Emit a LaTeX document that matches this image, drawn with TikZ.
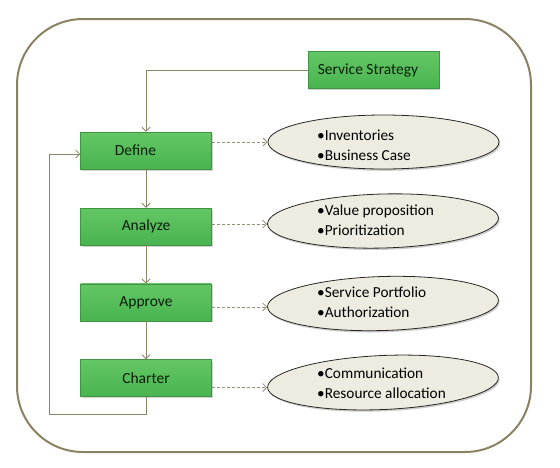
\documentclass[tikz,border=0pt]{standalone}
\usepackage{fontspec}
\setmainfont{Carlito}
\usetikzlibrary{arrows.meta,shapes.geometric,shadows,calc}
\definecolor{frameC}{RGB}{138,130,98}
\definecolor{lineC}{RGB}{140,132,105}
\definecolor{dashC}{RGB}{150,142,118}
\definecolor{boxTop}{RGB}{100,198,100}
\definecolor{boxBot}{RGB}{72,180,80}
\definecolor{boxEdge}{RGB}{62,150,66}
\definecolor{ellFill}{RGB}{238,236,225}
\definecolor{ellEdge}{RGB}{40,40,35}
\definecolor{txtC}{RGB}{10,30,10}
\begin{document}
\begin{tikzpicture}[x=1pt,y=-1pt,
  stepbox/.style={draw=boxEdge, line width=0.5pt, top color=boxTop, bottom color=boxBot,
    minimum width=131pt, minimum height=37pt, inner sep=0pt, text=txtC,
    font=\fontsize{15.5}{18}\selectfont,
    drop shadow={shadow xshift=1.2pt, shadow yshift=-1.6pt, opacity=0.35}},
  infoell/.style={ellipse, draw=ellEdge, line width=0.8pt, fill=ellFill,
    minimum width=231pt, minimum height=54pt, inner sep=0pt,
    drop shadow={shadow xshift=1.2pt, shadow yshift=-1.8pt, opacity=0.4}},
  infotext/.style={anchor=west, align=left, inner sep=0pt, text=black,
    font=\fontsize{15.3}{20}\selectfont},
  conn/.style={draw=lineC, line width=0.8pt, -{Straight Barb[length=4pt,width=8pt]}},
  dconn/.style={draw=dashC, line width=0.8pt, dash pattern=on 3pt off 2pt,
    -{Straight Barb[length=4pt,width=8pt]}}
]
\useasboundingbox (0,0) rectangle (560,467);
\draw[frameC, line width=2pt, fill=white, rounded corners=66pt] (17,19) rectangle (531,452);

\node[stepbox] (ss) at (373.5,70) {Service Strategy\kern11pt};
\node[stepbox] (def) at (146,150.5) {Define\kern21pt};
\node[stepbox] (ana) at (146,226.5) {Analyze};
\node[stepbox] (app) at (146,302.3) {Approve};
\node[stepbox] (cha) at (146,378) {Charter};

\node[infoell] (e1) at (383.5,142) {};
\node[infoell, rotate=1.5] (e2) at (383,221) {};
\node[infoell, rotate=1.7] (e3) at (383,303.5) {};
\node[infoell, rotate=2.5] (e4) at (383,382.5) {};

\node[infotext] (t1) at (317,145) {•Inventories\\•Business Case};
\node[infotext] (t2) at (317,220.4) {•Value proposition\\•Prioritization};
\node[infotext] (t3) at (317,302.5) {•Service Portfolio\\•Authorization};
\node[infotext] (t4) at (317,383.5) {•Communication\\•Resource allocation};

\draw[conn] (ss.west) -| (def.north);
\draw[conn] (def.south) -- (ana.north);
\draw[conn] (ana.south) -- (app.north);
\draw[conn] (app.south) -- (cha.north);
\coordinate (lb) at (49,414);
\draw[conn] (cha.south) |- (lb) |- ($(def.west)+(0,3.5)$);

\draw[dconn] (def.east |- e1.west) -- (e1.west);
\draw[dconn] (ana.east |- e2.west) -- (e2.west);
\draw[dconn] (app.east |- e3.west) -- (e3.west);
\draw[dconn] (cha.east |- e4.west) -- (e4.west);
\end{tikzpicture}
\end{document}
